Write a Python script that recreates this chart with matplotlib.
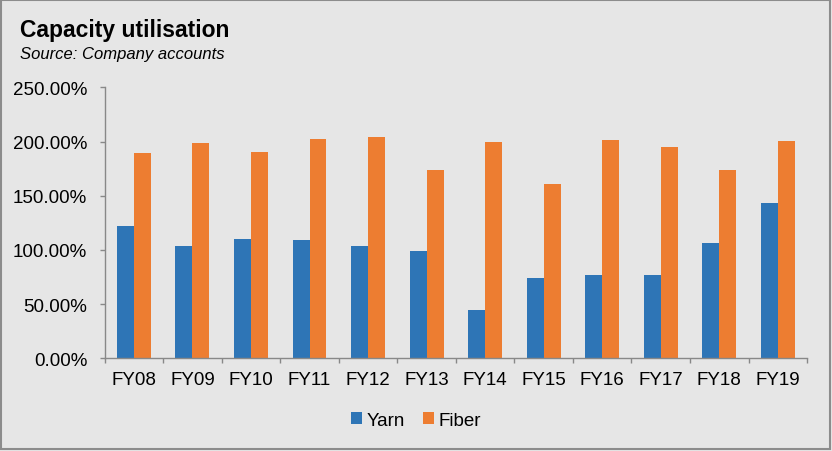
import matplotlib
matplotlib.use("Agg")
import matplotlib.pyplot as plt
import numpy as np
from matplotlib.patches import Rectangle
from matplotlib.ticker import FuncFormatter, FixedLocator

categories = ["FY08", "FY09", "FY10", "FY11", "FY12", "FY13",
              "FY14", "FY15", "FY16", "FY17", "FY18", "FY19"]
yarn = [122.0, 103.6, 110.0, 109.0, 103.6, 99.0, 44.6, 74.0, 77.0, 77.0, 106.3, 143.3]
fiber = [189.4, 198.6, 190.3, 202.4, 204.2, 173.8, 199.6, 160.8, 201.4, 195.0, 173.8, 200.5]
yticks = [0, 50, 100, 150, 200, 250]

plt.rcParams['font.family'] = ['Liberation Sans', 'DejaVu Sans']

bg = "#e6e6e6"
fig = plt.figure(figsize=(8.32, 4.52), dpi=100, facecolor=bg)
ax = fig.add_axes([0.1258, 0.205, 0.8442, 0.5996])
ax.set_facecolor(bg)

x = np.arange(len(categories))
w = 0.29
ax.bar(x - w / 2, yarn, width=w, color="#2e75b6", label="Yarn", zorder=2)
ax.bar(x + w / 2, fiber, width=w, color="#ed7d31", label="Fiber", zorder=2)

ax.set_xlim(-0.5, len(categories) - 0.5)
ax.set_ylim(0, 250)
ax.set_yticks(yticks)
ax.yaxis.set_major_formatter(FuncFormatter(lambda v, p: f"{v:.2f}%"))

ax.xaxis.set_major_locator(FixedLocator(np.arange(-0.5, len(categories), 1.0)))
ax.xaxis.set_minor_locator(FixedLocator(x))
ax.set_xticklabels([], minor=False)
ax.set_xticklabels(categories, minor=True)
ax.tick_params(axis="x", which="major", length=3.6, color="#888888", width=1)
ax.tick_params(axis="x", which="minor", length=0, pad=9, labelsize=13.5)
ax.tick_params(axis="y", length=3.6, color="#888888", width=1, labelsize=13.5, pad=9)

for s in ["top", "right"]:
    ax.spines[s].set_visible(False)
for s in ["left", "bottom"]:
    ax.spines[s].set_color("#888888")
    ax.spines[s].set_linewidth(1)

fig.text(0.024, 0.918, "Capacity utilisation", fontsize=16.5, fontweight="bold",
         ha="left", va="baseline")
fig.text(0.024, 0.869, "Source: Company accounts", fontsize=12, style="italic",
         ha="left", va="baseline")

leg = fig.legend(loc="center", bbox_to_anchor=(0.5, 0.068), ncol=2, frameon=False,
                 fontsize=13.5, handlelength=0.55, handleheight=0.55, handletextpad=0.25,
                 columnspacing=1.0)

fig.patches.append(Rectangle((0.0015, 0.004), 0.996, 0.993, transform=fig.transFigure,
                             fill=False, edgecolor="#8c8c8c", linewidth=1.5))

fig.savefig("out.png", dpi=100, facecolor=bg)
